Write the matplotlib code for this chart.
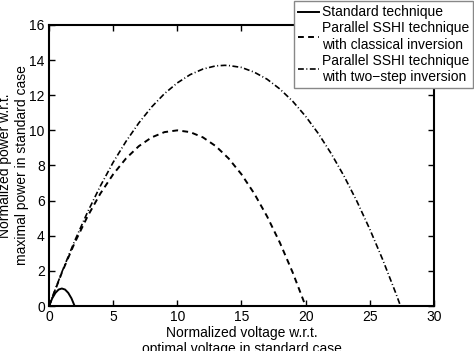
import matplotlib
matplotlib.use('Agg')
import matplotlib.pyplot as plt

plt.rcParams['font.family'] = ['Liberation Sans', 'DejaVu Sans']

# values
v_std = [0, 0.25, 0.5, 0.75, 1.0, 1.25, 1.5, 1.75, 2.0]
p_std = [0, 0.44, 0.75, 0.94, 1.0, 0.94, 0.75, 0.44, 0]

v_cls = [0, 1, 2, 3, 4, 5, 6, 7, 8, 9, 10, 11, 12, 13, 14, 15, 16, 17, 18, 19, 20]
p_cls = [0, 1.9, 3.6, 5.1, 6.4, 7.5, 8.4, 9.1, 9.6, 9.9, 10.0, 9.9, 9.6, 9.1, 8.4,
         7.5, 6.4, 5.1, 3.6, 1.9, 0]

v_two = [0, 1, 2, 3, 4, 5, 6, 7, 8, 9, 10, 11, 12, 13, 13.7, 14, 15, 16, 17, 18,
         19, 20, 21, 22, 23, 24, 25, 26, 27, 27.4]
p_two = [0, 1.93, 3.71, 5.34, 6.83, 8.18, 9.37, 10.42, 11.33, 12.09, 12.70, 13.17,
         13.49, 13.67, 13.70, 13.69, 13.58, 13.31, 12.91, 12.35, 11.65, 10.80, 9.81,
         8.67, 7.39, 5.96, 4.38, 2.66, 0.79, 0]

labels = ['Standard technique',
          'Parallel SSHI technique\nwith classical inversion',
          'Parallel SSHI technique\nwith two\u2212step inversion']

fig = plt.figure(figsize=(4.74, 3.51), dpi=100)
ax = fig.add_axes([0.1034, 0.128, 0.812, 0.801])

ax.plot(v_std, p_std, '-', color='black', lw=1.4, label=labels[0])
ax.plot(v_cls, p_cls, color='black', lw=1.4, dashes=(3, 2.2), label=labels[1])
ax.plot(v_two, p_two, color='black', lw=1.2, dashes=(3.5, 1.5, 0.6, 1.5), label=labels[2])

ax.set_xlim(0, 30)
ax.set_ylim(0, 16)
ax.set_xticks(range(0, 31, 5))
ax.set_yticks(range(0, 17, 2))
ax.tick_params(direction='in', length=4, width=1, top=True, right=True,
               labelsize=10, pad=3)
for s in ax.spines.values():
    s.set_linewidth(1.5)

ax.set_xlabel('Normalized voltage w.r.t.\noptimal voltage in standard case',
              fontsize=10, labelpad=1, linespacing=1.25)
ax.set_ylabel('Normalized power w.r.t.\nmaximal power in standard case',
              fontsize=10, labelpad=0.5, linespacing=1.25)

leg = ax.legend(loc='lower left', bbox_to_anchor=(0.620, 0.749),
                bbox_transform=fig.transFigure, fancybox=False, framealpha=1,
                edgecolor='#888888', fontsize=10, handlelength=1.5,
                handletextpad=0.2, borderaxespad=0, borderpad=0.3,
                labelspacing=0.15)
leg.get_frame().set_linewidth(1.0)

fig.savefig('out.png', dpi=100)
